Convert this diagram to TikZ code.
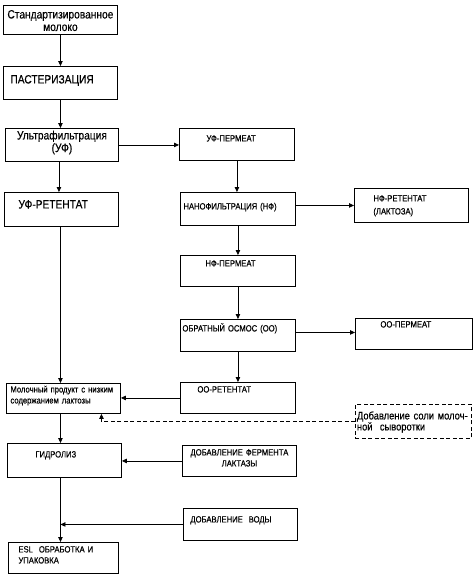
\documentclass[tikz,border=0pt]{standalone}
\usepackage{fontspec}
\setmainfont[FakeStretch=0.85,FakeBold=0.4]{Liberation Sans}
\usetikzlibrary{arrows.meta,positioning}
\tikzset{
  box/.style={draw, line width=0.9pt, anchor=north west, inner ysep=0pt, align=left},
  big/.style={font=\fontsize{12}{12.5}\selectfont},
  small/.style={font=\fontsize{9}{11}\selectfont},
}
\begin{document}
\begin{tikzpicture}[x=1pt,y=-1pt,>={Triangle[length=5pt,width=4.5pt]},line width=0.8pt]
   \useasboundingbox (0,0) rectangle (474,576);
   % left column
   \node[box,big,align=center,inner xsep=2pt,text width=110pt,text height=13pt,text depth=16pt] (std) at (3,5) {Стандартизированное\\молоко};
   \node[box,big,inner xsep=7pt,text width=100pt,text height=17pt,text depth=16pt] (past) at (3,66) {ПАСТЕРИЗАЦИЯ};
   \node[box,big,align=center,inner xsep=4pt,text width=105pt,text height=11pt,text depth=22pt] (uf) at (5,128) {Ультрафильтрация\\(УФ)};
   \node[box,big,inner xsep=14pt,text width=86pt,text height=16pt,text depth=18pt] (uf_ret) at (4,192) {УФ-РЕТЕНТАТ};
   \node[box,small,inner xsep=4pt,text width=106pt,text height=9pt,text depth=21pt] (low_lac) at (6,383) {Молочный продукт с низким\\содержанием лактозы};
   \node[box,small,inner xsep=28pt,text width=58pt,text height=14pt,text depth=20pt] (hydro) at (7,443) {ГИДРОЛИЗ};
   \node[box,small,inner xsep=10pt,text width=90pt,text height=10pt,text depth=21pt] (esl) at (8,542) {ESL\ \ ОБРАБОТКА И\\УПАКОВКА};
   % middle column
   \node[box,small,inner xsep=27pt,text width=61pt,text height=13pt,text depth=19pt] (uf_perm) at (179,128) {УФ-ПЕРМЕАТ};
   \node[box,small,inner xsep=3pt,text width=109pt,text height=17pt,text depth=16pt] (nf) at (180,192) {НАНОФИЛЬТРАЦИЯ (НФ)};
   \node[box,small,inner xsep=25pt,text width=65pt,text height=11pt,text depth=20pt] (nf_perm) at (180,255) {НФ-ПЕРМЕАТ};
   \node[box,small,inner xsep=2pt,text width=111pt,text height=12pt,text depth=20pt] (oo) at (180,319) {ОБРАТНЫЙ ОСМОС (ОО)};
   \node[box,small,inner xsep=17pt,text width=81pt,text height=10pt,text depth=21pt] (oo_ret) at (180,382) {ОО-РЕТЕНТАТ};
   \node[box,small,align=center,inner xsep=2pt,text width=110pt,text height=10pt,text depth=21pt] (enzyme) at (182,445) {ДОБАВЛЕНИЕ ФЕРМЕНТА\\ЛАКТАЗЫ};
   \node[box,small,inner xsep=7pt,text width=100pt,text height=14pt,text depth=18pt] (water) at (183,508) {ДОБАВЛЕНИЕ\ \ ВОДЫ};
   % right column
   \node[box,small,font=\fontsize{9}{13}\selectfont,inner xsep=19pt,text width=76pt,text height=13pt,text depth=21pt] (nf_ret) at (354,188) {НФ-РЕТЕНТАТ\\(ЛАКТОЗА)};
   \node[box,small,inner xsep=25pt,text width=67pt,text height=9pt,text depth=22pt] (oo_perm) at (355,318) {ОО-ПЕРМЕАТ};
   \node[box,dash pattern=on 4pt off 2.5pt,font=\fontsize{11}{11}\selectfont,inner xsep=1.5pt,text width=113pt,text height=15pt,text depth=19pt] (whey) at (355,404) {Добавление соли молоч-\\ной\ \ сыворотки};
   \coordinate (trunk) at ([xshift=-4pt]hydro.south);
    \path[->]
    (std.south) edge (std.south |- past.north)
    (past.south) edge (past.south |- uf.north)
    (uf.east) edge (uf.east -| uf_perm.west)
    ([xshift=-3pt]uf.south) edge ([xshift=-3pt]uf.south |- uf_ret.north)
    (uf_perm.south) edge (uf_perm.south |- nf.north)
    ([yshift=3.5pt]nf.east) edge ([yshift=3.5pt]nf.east -| nf_ret.west)
    (nf.south) edge (nf.south |- nf_perm.north)
    (nf_perm.south) edge (nf_perm.south |- oo.north)
    ([yshift=3pt]oo.east) edge ([yshift=3pt]oo.east -| oo_perm.west)
    (oo.south) edge (oo.south |- oo_ret.north)
    ([xshift=-1pt]uf_ret.south) edge ([xshift=-1pt]uf_ret.south |- low_lac.north)
    (oo_ret.west) edge (oo_ret.west -| low_lac.east)
    ([xshift=-3pt]low_lac.south) edge ([xshift=-3pt]low_lac.south |- hydro.north)
    (enzyme.west) edge (enzyme.west -| hydro.east)
    (trunk) edge (trunk |- esl.north)
    (water.west) edge (water.west -| trunk);
   \draw[->,dash pattern=on 4pt off 2.5pt] (whey.west) -| ([xshift=38pt]low_lac.south);
\end{tikzpicture}
\end{document}
